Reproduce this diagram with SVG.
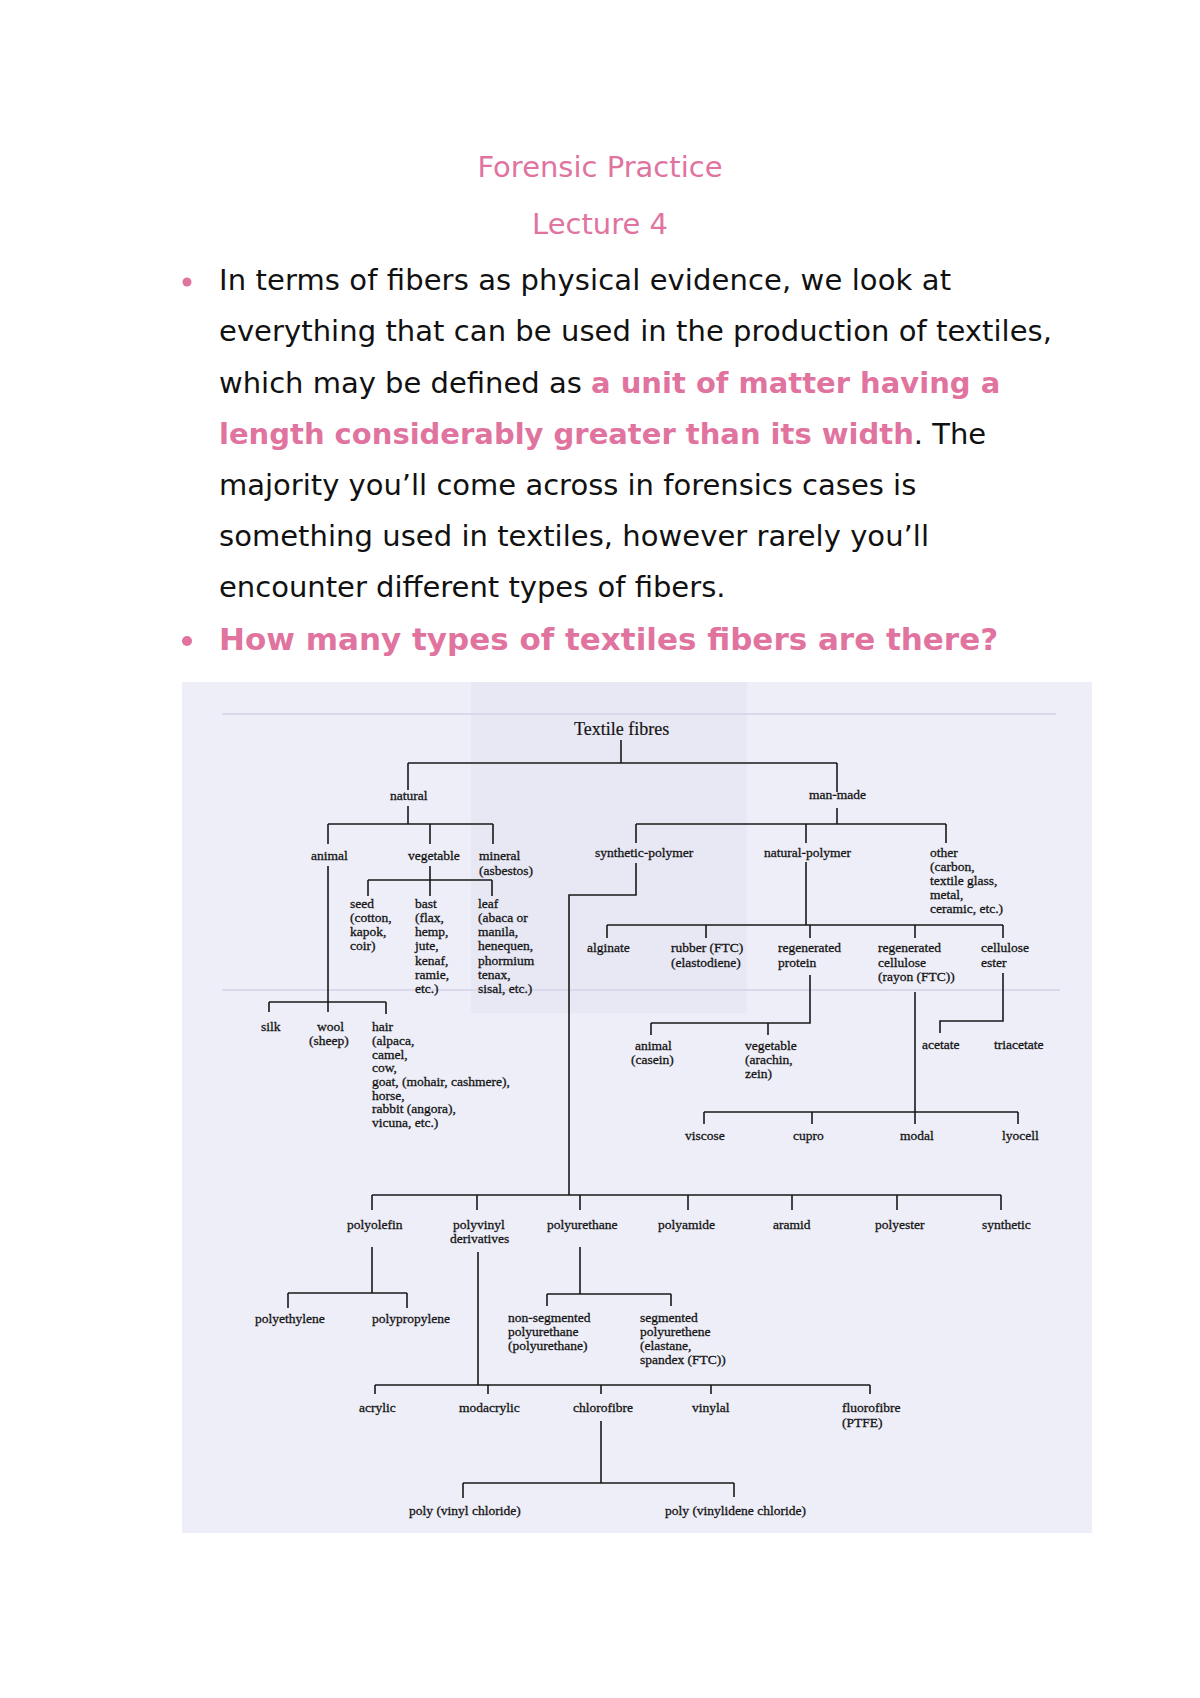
<svg xmlns="http://www.w3.org/2000/svg" width="1200" height="1698" viewBox="0 0 1200 1698">
<style>
.hd{font-family:"DejaVu Sans",sans-serif;font-size:29px;fill:#111}
.pk{fill:#e0749f}
.b{font-weight:bold}
.t{font-family:"Liberation Serif","Times New Roman",serif;font-size:13.5px;fill:#141414;stroke:#141414;stroke-width:0.3}
.big{font-size:18px;stroke-width:0.2}
.c path{fill:none;stroke:#1a1a1a;stroke-width:1.6}
</style>
<rect width="1200" height="1698" fill="#ffffff"/>
<g id="header">
<text class="hd pk" x="600" y="177" text-anchor="middle">Forensic Practice</text>
<text class="hd pk" x="600" y="234" text-anchor="middle">Lecture 4</text>
<circle cx="187" cy="282" r="4.5" fill="#e0749f"/>
<text class="hd" x="219" y="290" textLength="732" lengthAdjust="spacing">In terms of fibers as physical evidence, we look at</text>
<text class="hd" x="219" y="341" textLength="833" lengthAdjust="spacing">everything that can be used in the production of textiles,</text>
<text class="hd" x="219" y="393">which may be defined as <tspan class="pk b">a unit of matter having a</tspan></text>
<text class="hd" x="219" y="444"><tspan class="pk b">length considerably greater than its width</tspan>. The</text>
<text class="hd" x="219" y="495">majority you’ll come across in forensics cases is</text>
<text class="hd" x="219" y="546" textLength="710" lengthAdjust="spacing">something used in textiles, however rarely you’ll</text>
<text class="hd" x="219" y="597">encounter different types of fibers.</text>
<circle cx="187" cy="641" r="5" fill="#e0749f"/>
<text class="hd pk b" x="219" y="650" style="font-size:31px">How many types of textiles fibers are there?</text>
</g>
<g id="scan-background">
<rect x="182" y="682" width="910" height="851" fill="#eeeef8"/>
<rect x="471" y="682" width="276" height="331" fill="#e8e8f4"/>
<path d="M222,714 H1056 M222,990 H1060" stroke="#d9d9eb" stroke-width="2" fill="none"/>
</g>
<g id="connectors" class="c">
<path d="M621,740 V763 M408,763 H837 M408,763 V790 M837,763 V792"/>
<path d="M408,806 V824 M328,824 H493 M328,824 V844 M430,824 V844 M493,824 V844"/>
<path d="M328,866 V1002 M269,1002 H386 M269,1002 V1012 M328,1002 V1012 M386,1002 V1014"/>
<path d="M430,866 V880 M368,880 H492 M368,880 V896 M430,880 V896 M492,880 V896"/>
<path d="M837,808 V824 M636,824 H946 M636,824 V843 M806,824 V843 M946,824 V843"/>
<path d="M636,863 V895 H569 V1195"/>
<path d="M372,1195 H1001 M372,1195 V1210 M477,1195 V1210 M580,1195 V1210 M688,1195 V1210 M792,1195 V1210 M897,1195 V1210 M1001,1195 V1210"/>
<path d="M806,862 V925 M607,925 H1003 M607,925 V938 M706,925 V938 M810,925 V938 M915,925 V938 M1003,925 V938"/>
<path d="M810,975 V1023 H651 M651,1023 V1035 M768,1023 V1035"/>
<path d="M1003,973 V1021 H940 V1033"/>
<path d="M915,992 V1124 M704,1112 H1018 M704,1112 V1124 M812,1112 V1124 M1018,1112 V1124"/>
<path d="M372,1247 V1293 M288,1293 H407 M288,1293 V1308 M407,1293 V1308"/>
<path d="M478,1252 V1385 M375,1385 H870 M375,1385 V1394 M488,1385 V1394 M601,1385 V1394 M711,1385 V1394 M870,1385 V1394"/>
<path d="M580,1247 V1294 M547,1294 H671 M547,1294 V1306 M671,1294 V1306"/>
<path d="M601,1421 V1483 M463,1483 H734 M463,1483 V1498 M734,1483 V1497"/>
</g>
<g id="textile-fibres"><text class="t big" x="574" y="735">Textile fibres</text></g>
<g id="natural"><text class="t" x="390" y="800">natural</text></g>
<g id="man-made"><text class="t" x="809" y="799">man-made</text></g>
<g id="animal"><text class="t" x="311" y="860">animal</text></g>
<g id="vegetable"><text class="t" x="408" y="860">vegetable</text></g>
<g id="mineral"><text class="t" x="479" y="860">mineral</text><text class="t" x="479" y="875">(asbestos)</text></g>
<g id="synthetic-polymer"><text class="t" x="595" y="857">synthetic-polymer</text></g>
<g id="natural-polymer"><text class="t" x="764" y="857">natural-polymer</text></g>
<g id="other"><text class="t" x="930" y="857">other</text><text class="t" x="930" y="871">(carbon,</text><text class="t" x="930" y="885">textile glass,</text><text class="t" x="930" y="899">metal,</text><text class="t" x="930" y="913">ceramic, etc.)</text></g>
<g id="seed"><text class="t" x="350" y="908">seed</text><text class="t" x="350" y="922">(cotton,</text><text class="t" x="350" y="936">kapok,</text><text class="t" x="350" y="950">coir)</text></g>
<g id="bast"><text class="t" x="415" y="908">bast</text><text class="t" x="415" y="922">(flax,</text><text class="t" x="415" y="936">hemp,</text><text class="t" x="415" y="950">jute,</text><text class="t" x="415" y="965">kenaf,</text><text class="t" x="415" y="979">ramie,</text><text class="t" x="415" y="993">etc.)</text></g>
<g id="leaf"><text class="t" x="478" y="908">leaf</text><text class="t" x="478" y="922">(abaca or</text><text class="t" x="478" y="936">manila,</text><text class="t" x="478" y="950">henequen,</text><text class="t" x="478" y="965">phormium</text><text class="t" x="478" y="979">tenax,</text><text class="t" x="478" y="993">sisal, etc.)</text></g>
<g id="silk"><text class="t" x="261" y="1031">silk</text></g>
<g id="wool"><text class="t" x="317" y="1031">wool</text><text class="t" x="309" y="1045">(sheep)</text></g>
<g id="hair"><text class="t" x="372" y="1031">hair</text><text class="t" x="372" y="1045">(alpaca,</text><text class="t" x="372" y="1059">camel,</text><text class="t" x="372" y="1072">cow,</text><text class="t" x="372" y="1086">goat, (mohair, cashmere),</text><text class="t" x="372" y="1100">horse,</text><text class="t" x="372" y="1113">rabbit (angora),</text><text class="t" x="372" y="1127">vicuna, etc.)</text></g>
<g id="alginate"><text class="t" x="587" y="952">alginate</text></g>
<g id="rubber"><text class="t" x="671" y="952">rubber (FTC)</text><text class="t" x="671" y="967">(elastodiene)</text></g>
<g id="regenerated-protein"><text class="t" x="778" y="952">regenerated</text><text class="t" x="778" y="967">protein</text></g>
<g id="regenerated-cellulose"><text class="t" x="878" y="952">regenerated</text><text class="t" x="878" y="967">cellulose</text><text class="t" x="878" y="981">(rayon (FTC))</text></g>
<g id="cellulose-ester"><text class="t" x="981" y="952">cellulose</text><text class="t" x="981" y="967">ester</text></g>
<g id="animal-casein"><text class="t" x="635" y="1050">animal</text><text class="t" x="631" y="1064">(casein)</text></g>
<g id="vegetable-protein"><text class="t" x="745" y="1050">vegetable</text><text class="t" x="745" y="1064">(arachin,</text><text class="t" x="745" y="1078">zein)</text></g>
<g id="acetate"><text class="t" x="922" y="1049">acetate</text></g>
<g id="triacetate"><text class="t" x="994" y="1049">triacetate</text></g>
<g id="viscose"><text class="t" x="685" y="1140">viscose</text></g>
<g id="cupro"><text class="t" x="793" y="1140">cupro</text></g>
<g id="modal"><text class="t" x="900" y="1140">modal</text></g>
<g id="lyocell"><text class="t" x="1002" y="1140">lyocell</text></g>
<g id="polyolefin"><text class="t" x="347" y="1229">polyolefin</text></g>
<g id="polyvinyl"><text class="t" x="453" y="1229">polyvinyl</text><text class="t" x="450" y="1243">derivatives</text></g>
<g id="polyurethane"><text class="t" x="547" y="1229">polyurethane</text></g>
<g id="polyamide"><text class="t" x="658" y="1229">polyamide</text></g>
<g id="aramid"><text class="t" x="773" y="1229">aramid</text></g>
<g id="polyester"><text class="t" x="875" y="1229">polyester</text></g>
<g id="synthetic"><text class="t" x="982" y="1229">synthetic</text></g>
<g id="polyethylene"><text class="t" x="255" y="1323">polyethylene</text></g>
<g id="polypropylene"><text class="t" x="372" y="1323">polypropylene</text></g>
<g id="non-segmented"><text class="t" x="508" y="1322">non-segmented</text><text class="t" x="508" y="1336">polyurethane</text><text class="t" x="508" y="1350">(polyurethane)</text></g>
<g id="segmented"><text class="t" x="640" y="1322">segmented</text><text class="t" x="640" y="1336">polyurethene</text><text class="t" x="640" y="1350">(elastane,</text><text class="t" x="640" y="1364">spandex (FTC))</text></g>
<g id="acrylic"><text class="t" x="359" y="1412">acrylic</text></g>
<g id="modacrylic"><text class="t" x="459" y="1412">modacrylic</text></g>
<g id="chlorofibre"><text class="t" x="573" y="1412">chlorofibre</text></g>
<g id="vinylal"><text class="t" x="692" y="1412">vinylal</text></g>
<g id="fluorofibre"><text class="t" x="842" y="1412">fluorofibre</text><text class="t" x="842" y="1427">(PTFE)</text></g>
<g id="pvc"><text class="t" x="409" y="1515">poly (vinyl chloride)</text></g>
<g id="pvdc"><text class="t" x="665" y="1515">poly (vinylidene chloride)</text></g>
</svg>
